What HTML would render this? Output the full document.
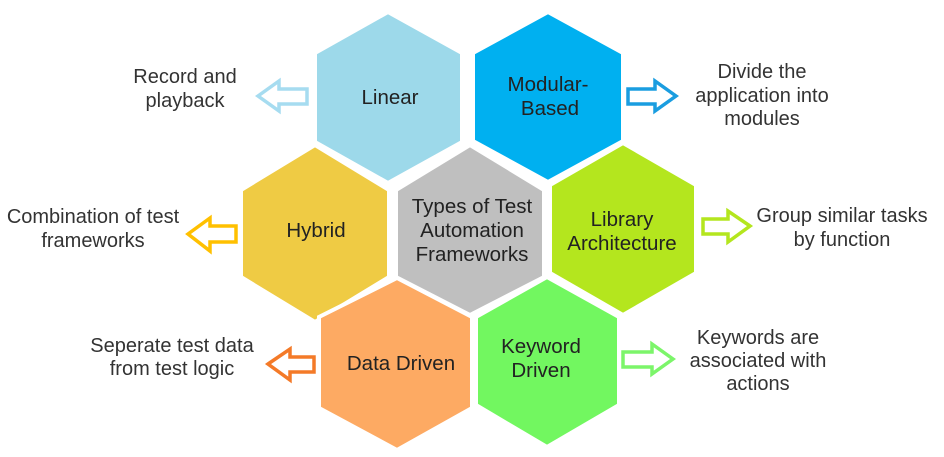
<!DOCTYPE html>
<html><head><style>
html,body{margin:0;padding:0;background:#fff;}
svg{display:block;}
text{font-family:"Liberation Sans",sans-serif;fill:#333;}
.l{font-size:20px;}
.h{font-size:20.5px;fill:#222;}
</style></head><body>
<svg width="944" height="457" viewBox="0 0 944 457" xmlns="http://www.w3.org/2000/svg">
<g stroke="#fff" stroke-width="4" stroke-linejoin="miter">
<polygon points="388,12 462,53 462,142 388,183 315,142 315,53" fill="#9dd9ea"/>
<polygon points="548,12 623,53 623,141 548,182 473,141 473,53" fill="#00b0f0"/>
<polygon points="470,145 544,190 544,277 470,315 396,277 396,190" fill="#bfbfbf"/>
<polygon points="315,145 389,190 389,277 315,322 241,277 241,190" fill="#efcb44"/>
<polygon points="623,143 696,185 696,273 623,315 550,273 550,185" fill="#b4e61e"/>
<polygon points="397,278 472,317 472,408 397,450 319,408 319,317" fill="#fdaa63"/>
<polygon points="547,277 619,317 619,405 547,447 476,405 476,317" fill="#72f760"/>
</g>
<g fill="none" stroke-width="3.5" stroke-linejoin="miter">
<path d="M258,96 L279,81 L279,89 L307,89 L307,104 L279,104 L279,111 Z" stroke="#a6dcf0"/>
<path d="M676,96 L655,81 L655,89 L628,89 L628,104 L655,104 L655,111 Z" stroke="#1a9de0"/>
<path d="M188,234 L210,218 L210,226 L236,226 L236,242 L210,242 L210,251 Z" stroke="#ffc000"/>
<path d="M750,226 L728,211 L728,219 L703,219 L703,234 L728,234 L728,242 Z" stroke="#b4e61e"/>
<path d="M268,364 L290,349 L290,357 L314,357 L314,372 L290,372 L290,380 Z" stroke="#f47a28"/>
<path d="M673,359 L652,344 L652,352 L623,352 L623,367 L652,367 L652,374 Z" stroke="#7cf56a"/>
</g>
<g text-anchor="middle">
<text class="h" x="390" y="104">Linear</text>
<text class="h" x="548" y="91">Modular-</text>
<text class="h" x="550" y="115">Based</text>
<text class="h" x="472" y="213">Types of Test</text>
<text class="h" x="472" y="237">Automation</text>
<text class="h" x="472" y="261">Frameworks</text>
<text class="h" x="316" y="237">Hybrid</text>
<text class="h" x="622" y="226">Library</text>
<text class="h" x="622" y="250">Architecture</text>
<text class="h" x="401" y="370">Data Driven</text>
<text class="h" x="541" y="353">Keyword</text>
<text class="h" x="541" y="377">Driven</text>
<text class="l" x="185" y="83">Record and</text>
<text class="l" x="185" y="107">playback</text>
<text class="l" x="762" y="78">Divide the</text>
<text class="l" x="762" y="102">application into</text>
<text class="l" x="762" y="125">modules</text>
<text class="l" x="93" y="223">Combination of test</text>
<text class="l" x="93" y="247">frameworks</text>
<text class="l" x="842" y="222">Group similar tasks</text>
<text class="l" x="842" y="246">by function</text>
<text class="l" x="172" y="352">Seperate test data</text>
<text class="l" x="172" y="375">from test logic</text>
<text class="l" x="758" y="344">Keywords are</text>
<text class="l" x="758" y="367">associated with</text>
<text class="l" x="758" y="390">actions</text>
</g>
</svg>
</body></html>
